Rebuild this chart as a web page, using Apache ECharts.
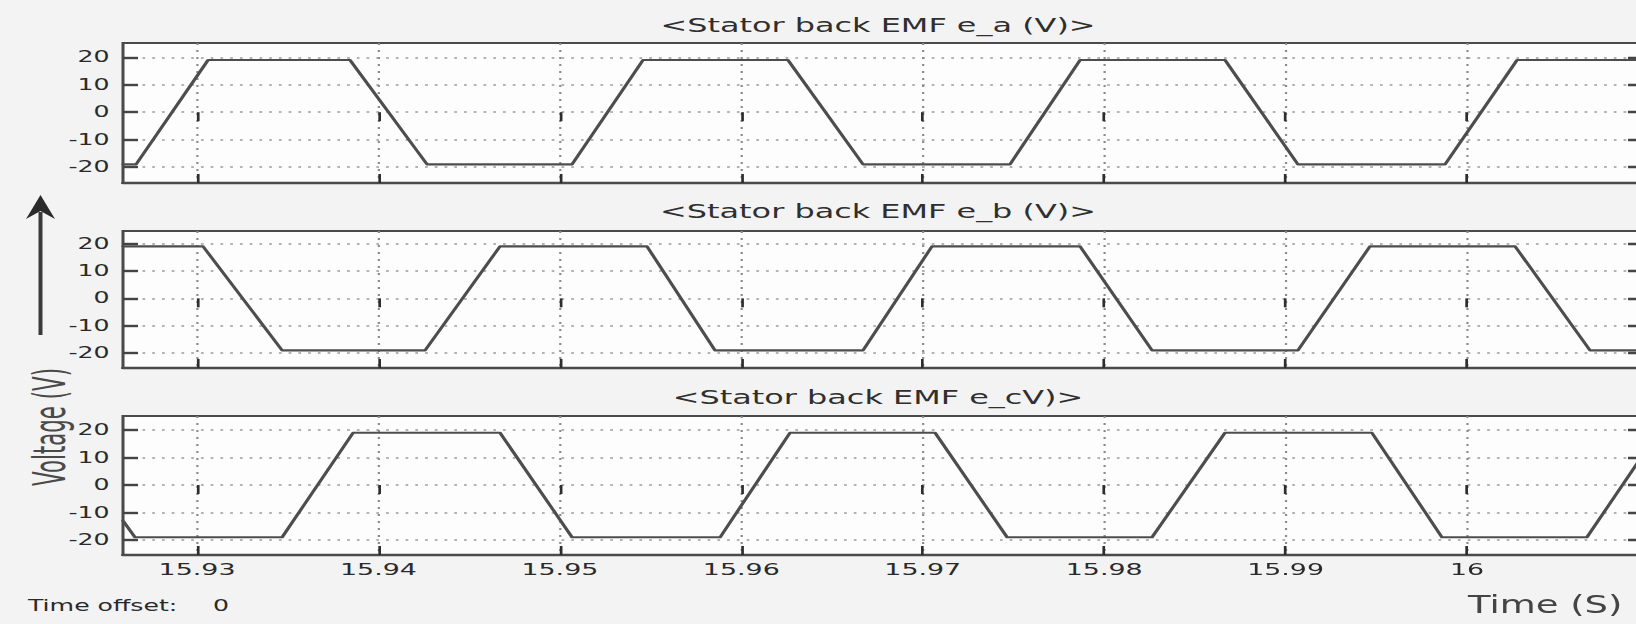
<!DOCTYPE html>
<html>
<head>
<meta charset="utf-8">
<script src="https://cdn.jsdelivr.net/npm/echarts@6/dist/echarts.min.js"></script>
<style>
  html, body { margin: 0; padding: 0; background: #f3f3f3; overflow: hidden; }
  #wrap { width: 1636px; height: 624px; overflow: hidden; position: relative; }
  #chart { position: absolute; left: 0; top: 0; height: 624px; transform-origin: 0 0; }
</style>
</head>
<body>
<div id="wrap"><div id="chart"></div></div>
<script>
// ---------------- data ----------------
const titles = ['<Stator back EMF e_a (V)>', '<Stator back EMF e_b (V)>', '<Stator back EMF e_cV)>'];

const xTickValues = [15.93, 15.94, 15.95, 15.96, 15.97, 15.98, 15.99, 16.00];
const xTickLabels = ['15.93', '15.94', '15.95', '15.96', '15.97', '15.98', '15.99', '16'];
const yTickValues = [-20, -10, 0, 10, 20];

const eaTime = [15.92592, 15.92664, 15.93061, 15.93843, 15.94268, 15.95067, 15.95458, 15.96257,
                15.96671, 15.97481, 15.97867, 15.98666, 15.99068, 15.99879, 16.00276, 16.00970];
const eaVolt = [-19, -19, 19, 19, -19, -19, 19, 19, -19, -19, 19, 19, -19, -19, 19, 19];

const ebTime = [15.92592, 15.93033, 15.93469, 15.94257, 15.94670, 15.95480, 15.95855, 15.96671,
                15.97051, 15.97867, 15.98264, 15.99068, 15.99465, 16.00265, 16.00678, 16.00970];
const ebVolt = [19, 19, -19, -19, 19, 19, -19, -19, 19, 19, -19, -19, 19, 19, -19, -19];

const ecTime = [15.92592, 15.92658, 15.93469, 15.93860, 15.94670, 15.95067, 15.95883, 15.96268,
                15.97068, 15.97465, 15.98264, 15.98666, 15.99476, 15.99862, 16.00661, 16.00970];
const ecVolt = [-13, -19, -19, 19, 19, -19, -19, 19, 19, -19, -19, 19, 19, -19, -19, 11];

// ---------------- layout ----------------
const S = 1.68;                 // horizontal stretch of the original picture
const X = v => v / S;           // picture x -> unscaled x
const W = 1636 / S;
const chartEl = document.getElementById('chart');
chartEl.style.width = W + 'px';
chartEl.style.transform = 'scaleX(' + S + ')';

const FONT = 'DejaVu Sans';
const xMin = 15.92592, xMax = 16.0097;
const panels = [
  { top: 43,  height: 140, ymin: -25.8,  ymax: 25.2, titleY: 25.2 },
  { top: 231, height: 137, ymin: -25.45, ymax: 24.6, titleY: 211.3 },
  { top: 416, height: 139, ymin: -25.45, ymax: 25.1, titleY: 397.2 }
];
const seriesData = [[eaTime, eaVolt], [ebTime, ebVolt], [ecTime, ecVolt]];

const xLabelFmt = v => {
  const i = xTickValues.findIndex(t => Math.abs(t - v) < 1e-7);
  return i >= 0 ? xTickLabels[i] : '';
};
const yLabelFmt = v => {
  const i = yTickValues.findIndex(t => Math.abs(t - v) < 1e-7);
  return i >= 0 ? String(yTickValues[i]) : '';
};

const grids = [], xAxes = [], yAxes = [], series = [];
panels.forEach((p, i) => {
  grids.push({
    left: X(123), top: p.top, width: X(1520), height: p.height,
    show: true, backgroundColor: '#fdfdfd', borderColor: '#4a4a4a', borderWidth: 1.8,
    containLabel: false, outerBoundsMode: 'none'
  });
  xAxes.push({
    type: 'value', gridIndex: i, position: 'bottom', min: xMin, max: xMax, splitNumber: 8,
    axisLine: { show: true, onZero: false, lineStyle: { color: '#4a4a4a', width: 2.4 } },
    axisTick: { show: true, inside: true, length: 9, customValues: xTickValues,
                lineStyle: { color: '#2e2e2e', width: 1.6 } },
    axisLabel: { show: i === 2, customValues: xTickValues, formatter: xLabelFmt,
                 fontFamily: FONT, fontSize: 16, color: '#2a2a2a', margin: 6 },
    splitLine: { show: true, lineStyle: { color: '#8a8a8a', width: 1.3, type: [2, 5] } }
  });
  xAxes.push({
    type: 'value', gridIndex: i, position: 'top', min: xMin, max: xMax, splitNumber: 8,
    axisLine: { show: false },
    axisTick: { show: true, inside: true, length: 9, customValues: xTickValues,
                lineStyle: { color: '#2e2e2e', width: 1.6 } },
    axisLabel: { show: false },
    splitLine: { show: false }
  });
  yAxes.push({
    type: 'value', gridIndex: i, position: 'left', min: p.ymin, max: p.ymax, splitNumber: 5,
    axisLine: { show: false },
    axisTick: { show: true, inside: true, length: X(15), customValues: yTickValues,
                lineStyle: { color: '#444', width: 2.4 } },
    axisLabel: { show: true, customValues: yTickValues, formatter: yLabelFmt,
                 fontFamily: FONT, fontSize: 15, color: '#2a2a2a', margin: 8 },
    splitLine: { show: true, lineStyle: { color: '#9a9a9a', width: 1.5, type: [1.6, 4.2] } }
  });
  yAxes.push({
    type: 'value', gridIndex: i, position: 'right', min: p.ymin, max: p.ymax, splitNumber: 5,
    axisLine: { show: false },
    axisTick: { show: true, inside: true, length: X(15), customValues: yTickValues,
                lineStyle: { color: '#444', width: 2.4 } },
    axisLabel: { show: false },
    splitLine: { show: false }
  });
  const [tt, vv] = seriesData[i];
  series.push({
    type: 'line', xAxisIndex: 2 * i, yAxisIndex: 2 * i,
    data: tt.map((t, k) => [t, vv[k]]),
    showSymbol: false, symbol: 'none', animation: false,
    lineStyle: { color: '#4d4d4d', width: 2.1, join: 'round', cap: 'round' },
    z: 5
  });
});

const graphics = [];
panels.forEach((p, i) => {
  graphics.push({
    type: 'text', x: X(878), y: p.titleY,
    style: { text: titles[i], fontFamily: FONT, fontSize: 19, fill: '#2f2f2f',
             textAlign: 'center', textVerticalAlign: 'middle' }
  });
});
const ax = X(40.5), aw = X(14.5);
graphics.push({
  type: 'line', shape: { x1: ax, y1: 212, x2: ax, y2: 335 },
  style: { stroke: '#3a3a3a', lineWidth: X(4) }
});
graphics.push({
  type: 'polygon', shape: { points: [[ax, 195], [ax - aw, 219], [ax, 211], [ax + aw, 219]] },
  style: { fill: '#2a2a2a' }
});
graphics.push({
  type: 'text', x: X(50), y: 427, rotation: Math.PI / 2, scaleX: 0.82,
  style: { text: 'Voltage (V)', fontFamily: FONT, fontSize: 26, fill: '#4a4a4a',
           textAlign: 'center', textVerticalAlign: 'middle' }
});
graphics.push({
  type: 'text', x: X(28), y: 606,
  style: { text: 'Time offset:', fontFamily: FONT, fontSize: 15, fill: '#2a2a2a',
           textAlign: 'left', textVerticalAlign: 'middle' }
});
graphics.push({
  type: 'text', x: X(213), y: 606,
  style: { text: '0', fontFamily: FONT, fontSize: 15, fill: '#2a2a2a',
           textAlign: 'left', textVerticalAlign: 'middle' }
});
graphics.push({
  type: 'text', x: X(1468), y: 604, scaleX: 0.88,
  style: { text: 'Time (S)', fontFamily: FONT, fontSize: 25, fill: '#444',
           textAlign: 'left', textVerticalAlign: 'middle' }
});

const chart = echarts.init(chartEl, null, { renderer: 'svg', width: W, height: 624 });
chart.setOption({
  backgroundColor: '#f3f3f3',
  animation: false,
  grid: grids,
  xAxis: xAxes,
  yAxis: yAxes,
  series: series,
  graphic: graphics
});
</script>
</body>
</html>
